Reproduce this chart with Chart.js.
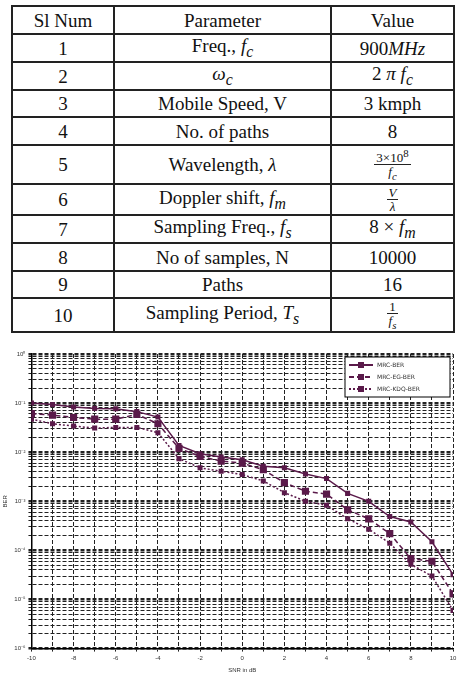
<!DOCTYPE html>
<html><head><meta charset="utf-8">
<script src="https://cdn.jsdelivr.net/npm/chart.js@4/dist/chart.umd.min.js"></script>
<style>
body{margin:0;width:466px;height:676px;background:#fff;font-family:"Liberation Serif",serif;position:relative;overflow:hidden}
table{position:absolute;left:11px;top:5px;border-collapse:collapse;font-size:19px;color:#111}
td{border:2px solid #222;text-align:center;padding:0;line-height:1}
i{font-style:italic}
.fr{display:inline-block;vertical-align:middle;font-size:13px}
.fr span{display:block;padding:0 2px}
.fr span:first-child{border-bottom:1px solid #222}
#wrap{position:absolute;left:0;top:340px;width:466px;height:336px}
</style></head><body>
<table>
<tr style="height:28px"><td style="width:100px">Sl Num</td><td style="width:215px">Parameter</td><td style="width:121px">Value</td></tr>
<tr style="height:28px"><td>1</td><td>Freq., <i>f<sub>c</sub></i></td><td>900<i>MHz</i></td></tr>
<tr style="height:28px"><td>2</td><td><i>ω<sub>c</sub></i></td><td>2 <i>π f<sub>c</sub></i></td></tr>
<tr style="height:27px"><td>3</td><td>Mobile Speed, V</td><td>3 kmph</td></tr>
<tr style="height:28px"><td>4</td><td>No. of paths</td><td>8</td></tr>
<tr style="height:39px"><td>5</td><td>Wavelength, <i>λ</i></td><td><span class="fr"><span>3×10<sup>8</sup></span><span><i>f<sub>c</sub></i></span></span></td></tr>
<tr style="height:31px"><td>6</td><td>Doppler shift, <i>f<sub>m</sub></i></td><td><span class="fr"><span><i>V</i></span><span><i>λ</i></span></span></td></tr>
<tr style="height:28px"><td>7</td><td>Sampling Freq., <i>f<sub>s</sub></i></td><td>8 × <i>f<sub>m</sub></i></td></tr>
<tr style="height:28px"><td>8</td><td>No of samples, N</td><td>10000</td></tr>
<tr style="height:27px"><td>9</td><td>Paths</td><td>16</td></tr>
<tr style="height:34px"><td>10</td><td>Sampling Period, <i>T<sub>s</sub></i></td><td><span class="fr"><span>1</span><span><i>f<sub>s</sub></i></span></span></td></tr>
</table>
<div id="wrap"><canvas id="c"></canvas></div>
<script>
const snr = [-10,-9,-8,-7,-6,-5,-4,-3,-2,-1,0,1,2,3,4,5,6,7,8,9,10];
const mrcBer = [0.10,0.094,0.083,0.078,0.077,0.067,0.052,0.0137,0.0093,0.0080,0.0070,0.0052,0.0048,0.0036,0.0029,0.00145,0.001,4.9e-4,3.8e-4,1.5e-4,3.2e-5];
const mrcEgBer = [0.061,0.057,0.051,0.047,0.047,0.059,0.038,0.012,0.0082,0.0066,0.006,0.0044,0.0024,0.0016,0.0014,6.7e-4,4.4e-4,2.2e-4,6.8e-5,6e-5,1.3e-5];
const mrcKdqBer = [0.047,0.038,0.034,0.031,0.032,0.032,0.025,0.0074,0.0048,0.0041,0.0035,0.0026,0.0015,0.001,8.3e-4,4.4e-4,2.7e-4,1.4e-4,5.2e-5,3e-5,6e-6];
const names = ['MRC-BER','MRC-EG-BER','MRC-KDQ-BER'];
const sup = {'0':'⁰','1':'¹','2':'²','3':'³','4':'⁴','5':'⁵','6':'⁶','-':'⁻'};
const col = '#5a1a4a';

const legendBox = {
  id: 'legendBox',
  afterDraw(chart) {
    const {ctx, chartArea: a} = chart;
    const w = 105, h = 40, x = a.right - w - 3, y = a.top + 3;
    ctx.save();
    ctx.fillStyle = '#fff'; ctx.fillRect(x, y, w, h);
    ctx.strokeStyle = '#000'; ctx.lineWidth = 1; ctx.strokeRect(x, y, w, h);
    ctx.font = '6px "DejaVu Sans"'; ctx.textBaseline = 'middle';
    chart.data.datasets.forEach((d, i) => {
      const yy = y + 8 + i * 12;
      ctx.strokeStyle = col; ctx.lineWidth = 2; ctx.setLineDash(d.borderDash || []);
      ctx.beginPath(); ctx.moveTo(x + 4, yy); ctx.lineTo(x + 28, yy); ctx.stroke();
      ctx.setLineDash([]); ctx.fillStyle = col; ctx.fillRect(x + 13, yy - 3, 6, 6);
      ctx.fillStyle = '#333'; ctx.fillText(d.label, x + 32, yy);
    });
    ctx.restore();
  }
};

const isDecade = v => Math.abs(Math.log10(v) - Math.round(Math.log10(v))) < 1e-9;

new Chart(document.getElementById('c'), {
  type: 'line',
  data: {
    labels: snr,
    datasets: [
      {label: names[0], data: mrcBer, borderColor: col, backgroundColor: col, borderWidth: 1.5, pointStyle: 'rect', pointRadius: 2.5, tension: 0},
      {label: names[1], data: mrcEgBer, borderColor: col, backgroundColor: col, borderWidth: 1.5, borderDash: [5, 3], pointStyle: 'rect', pointRadius: 4, tension: 0},
      {label: names[2], data: mrcKdqBer, borderColor: col, backgroundColor: col, borderWidth: 1.5, borderDash: [2, 2], pointStyle: 'rect', pointRadius: 2.5, tension: 0}
    ]
  },
  options: {
    responsive: true, maintainAspectRatio: false, animation: false,
    layout: {padding: {left: 0, right: 13, top: 14, bottom: 0}},
    plugins: {legend: {display: false}, tooltip: {enabled: false}},
    scales: {
      x: {
        type: 'linear', min: -10, max: 10,
        ticks: {stepSize: 1, font: {size: 6}, color: '#333', maxRotation: 0,
          callback: v => v % 2 === 0 ? v : ''},
        grid: {color: '#222', lineWidth: 1, tickLength: 3},
        border: {display: true, color: '#000', width: 1.5, dash: [4, 2]},
        title: {display: true, text: 'SNR in dB', font: {size: 6}, color: '#333', padding: 2}
      },
      y: {
        type: 'logarithmic', min: 1e-6, max: 1,
        afterBuildTicks: s => {
          const t = [];
          for (let e = -6; e <= 0; e++) for (let m = 1; m <= 9; m++) { const v = m * Math.pow(10, e); if (v <= 1) t.push({value: v}); }
          s.ticks = t;
        },
        ticks: {font: {size: 6}, color: '#333', autoSkip: false,
          callback: v => isDecade(v) ? '10' + String(Math.round(Math.log10(v))).split('').map(c => sup[c]).join('') : ''},
        grid: {color: '#222', lineWidth: ctx => (ctx.tick && isDecade(ctx.tick.value)) ? 2.5 : 1, tickLength: 3},
        border: {display: true, color: '#000', width: 1.5, dash: [4, 2]},
        title: {display: true, text: 'BER', font: {size: 6}, color: '#333', padding: 2}
      }
    }
  },
  plugins: [legendBox]
});
</script>
</body></html>
